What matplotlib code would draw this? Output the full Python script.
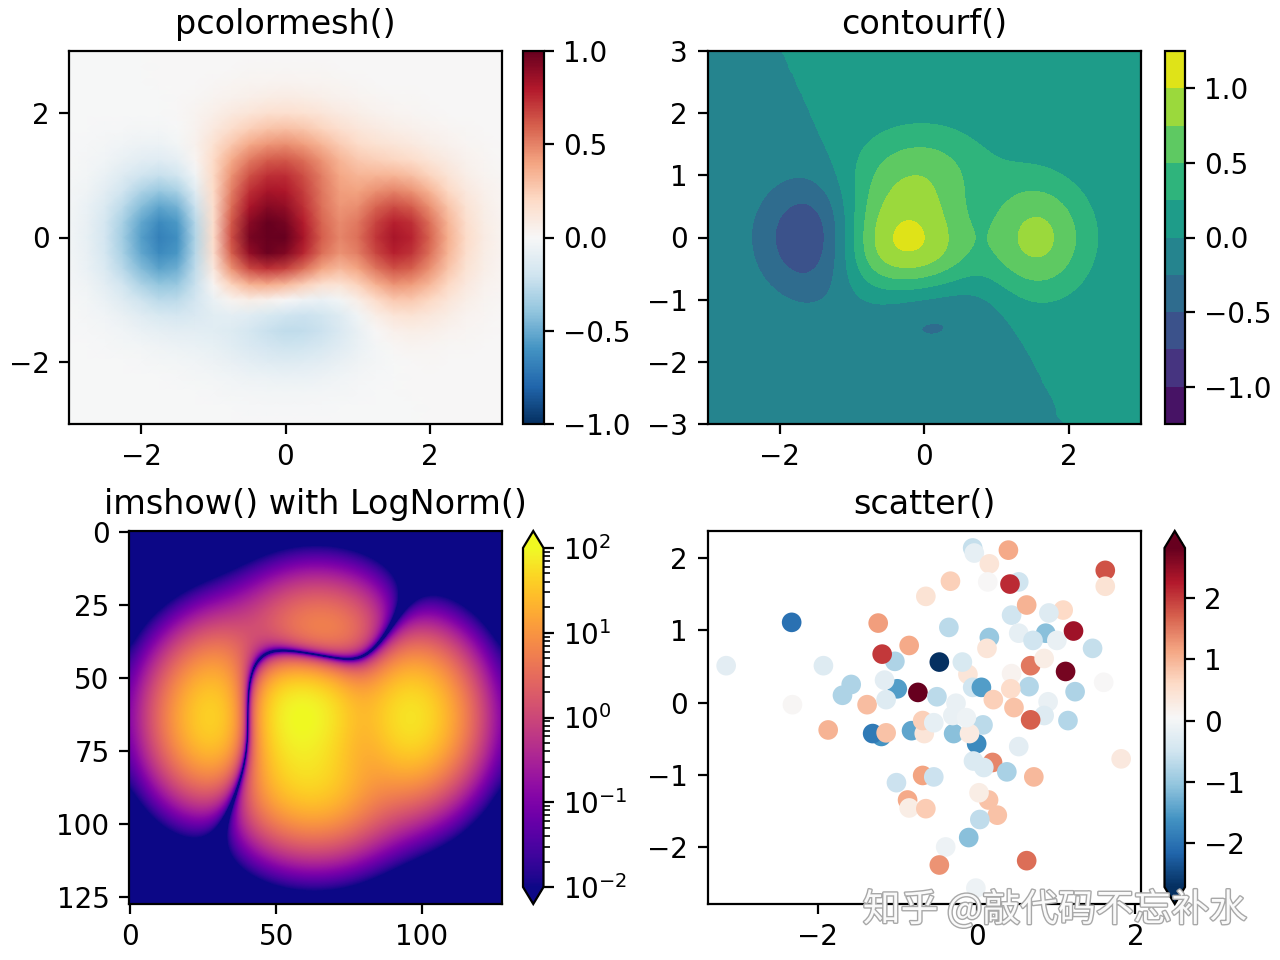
import numpy as np
import matplotlib
matplotlib.use("Agg")
import matplotlib.pyplot as plt
import matplotlib.cm as cm
import matplotlib.tri as mtri
import matplotlib.patheffects as pe
from matplotlib.colors import LogNorm, FuncNorm

# axis of the surface table, first row is y=-3
grid_axis = np.linspace(-3, 3, 25)

z_rows = [
    [-.000004, -.000012, -.000029, -.000065, -.000129, -.00024, -.000427, -.000735, -.001202, -.001817, -.002476, -.002998, -.003207, -.003026, -.002518, -.001836, -.001157, -.000609, -.000249, -.000061, .000011, .000024, .000017, .000008, .000004],
    [-.000017, -.000047, -.000117, -.000251, -.000483, -.000858, -.001458, -.002419, -.003877, -.005817, -.007918, -.009597, -.01028, -.009718, -.008095, -.005899, -.003686, -.001891, -.000708, -.000103, .000107, .00012, .000077, .000037, .000014],
    [-.000061, -.000171, -.000414, -.00087, -.001614, -.002723, -.004368, -.006898, -.010741, -.015934, -.021657, -.026294, -.02823, -.026744, -.022314, -.016237, -.010031, -.004935, -.001583, .000081, .000578, .000512, .000305, .000141, .000054],
    [-.000197, -.000547, -.001305, -.002682, -.004799, -.007676, -.011498, -.017005, -.025361, -.036981, -.050144, -.061047, -.06577, -.062521, -.052296, -.037975, -.023032, -.010567, -.002364, .001521, .002388, .001848, .001051, .000479, .00018],
    [-.000562, -.001551, -.003658, -.007368, -.012751, -.01931, -.026726, -.036184, -.050526, -.071605, -.096708, -.118276, -.12818, -.122545, -.102937, -.074481, -.043784, -.017552, -.00029, .007309, .008052, .005741, .003161, .001417, .00053],
    [-.001, -.004, -.009, -.018, -.030, -.044, -.055, -.067, -.084, -.113, -.151, -.186, -.204, -.197, -.167, -.120, -.066, -.019, .012, .025, .023, .015, .008, .004, .001],
    [-.003, -.009, -.020, -.039, -.064, -.088, -.102, -.106, -.112, -.134, -.177, -.223, -.252, -.250, -.213, -.151, -.073, .001, .050, .065, .055, .036, .019, .008, .003],
    [-.006, -.017, -.039, -.076, -.123, -.162, -.172, -.149, -.112, -.098, -.120, -.163, -.200, -.212, -.191, -.130, -.035, .065, .130, .143, .115, .074, .039, .017, .006],
    [-.011, -.030, -.068, -.132, -.209, -.267, -.265, -.187, -.068, .029, .063, .043, 0, -.043, -.063, -.029, .068, .187, .266, .267, .209, .132, .068, .030, .011],
    [-.017, -.046, -.105, -.202, -.317, -.398, -.376, -.220, .017, .232, .354, .376, .330, .243, .160, .143, .227, .359, .446, .429, .330, .206, .107, .046, .017],
    [-.023, -.063, -.144, -.274, -.430, -.535, -.490, -.253, .107, .450, .663, .730, .682, .550, .398, .326, .394, .539, .634, .597, .454, .282, .146, .063, .023],
    [-.028, -.076, -.173, -.330, -.516, -.640, -.580, -.284, .168, .601, .880, .978, .924, .759, .561, .453, .514, .671, .775, .725, .550, .342, .177, .077, .028],
    [-.030, -.081, -.184, -.352, -.550, -.680, -.616, -.299, .184, .648, .949, 1.056, 1.000, .823, .609, .491, .552, .718, .827, .773, .586, .364, .188, .082, .030],
    [-.028, -.076, -.173, -.330, -.516, -.638, -.577, -.278, .178, .617, .902, 1.006, .954, .787, .583, .469, .524, .677, .778, .727, .550, .342, .177, .077, .028],
    [-.023, -.063, -.143, -.273, -.426, -.525, -.470, -.213, .179, .561, .815, .914, .876, .733, .550, .438, .466, .579, .654, .607, .458, .284, .146, .064, .023],
    [-.017, -.046, -.105, -.199, -.309, -.376, -.326, -.120, .193, .506, .728, .828, .810, .695, .534, .417, .403, .459, .496, .451, .338, .209, .107, .047, .017],
    [-.011, -.029, -.067, -.127, -.196, -.233, -.188, -.033, .203, .448, .636, .734, .736, .648, .511, .390, .338, .341, .343, .302, .222, .136, .070, .030, .011],
    [-.006, -.017, -.038, -.071, -.108, -.123, -.086, .023, .189, .369, .518, .606, .619, .557, .446, .336, .266, .236, .217, .181, .130, .079, .040, .017, .006],
    [-.003, -.008, -.019, -.035, -.051, -.055, -.027, .043, .150, .271, .377, .445, .461, .421, .341, .254, .189, .150, .125, .098, .068, .041, .020, .009, .003],
    [-.001, -.004, -.008, -.015, -.021, -.020, -.002, .039, .101, .173, .240, .285, .298, .274, .224, .166, .118, .086, .065, .048, .032, .019, .009, .004, .001],
    [-.000526, -.001399, -.003092, -.005514, -.007383, -.005606, .004156, .025228, .057268, .095347, .13148, .156968, .16482, .152699, .125251, .092471, .06401, .04386, .030592, .021013, .01342, .007595, .003727, .001569, .000566],
    [-.000179, -.000473, -.001027, -.00177, -.002157, -.000932, .0037, .013219, .027691, .045185, .062158, .074415, .07843, .072941, .060006, .044191, .03002, .019657, .012834, .008265, .00503, .00276, .001329, .000553, .000198],
    [-.000054, -.00014, -.000297, -.000488, -.000508, .000099, .00199, .005744, .011451, .018436, .025321, .03037, .03209, .02992, .024664, .018133, .012161, .007707, .004775, .002903, .001684, .000894, .000421, .000173, .000062],
    [-.000014, -.000036, -.000075, -.000114, -.000088, .000152, .000818, .002108, .004069, .006491, .008904, .010695, .01132, .010574, .008728, .006409, .00426, .002637, .001568, .000907, .000502, .000258, .000119, .000048, .000017],
    [-.000003, -.000008, -.000016, -.000022, -.000007, .000072, .000275, .000661, .001248, .001977, .00271, .003258, .003453, .00323, .002668, .001958, .001293, .000787, .000453, .000251, .000133, .000066, .000029, .000012, .000004],
]

scatter_x = [-3.155, -2.33, -1.93, -2.32, -1.24, -.85, -1.03, -1.19, -1.58, -1.69, -1.38, -1.0, -1.16, -1.14, -.74, -.64,
             -.05, -.03, .40, .16, -.33, .14, .53, .42, .44, .63, 1.09, .91, -.35, .16, .13, .53, .87, .71, 1.01, 1.22,
             1.46, -.47, -.11, -.18, .68, .85, .44, 1.12, 1.60, 1.24, .66, .43, -.05, .06, -.5, .21, -.26, .90, .47, .85,
             .68, 1.15, -1.87, -1.2, -1.31, -1.14, -.82, -.66, -.68, -.54, -.29, 0, .08, -.09, -.30, -.13, .53, .2, -.04,
             .09, .38, .72, 1.82, -.68, -.54, -1.01, .15, .03, .26, -.87, -.85, -.64, .04, -.10, -.39, -.47, .63, -.01,
             1.62, 1.62]
scatter_y = [.51, 1.11, .51, -.03, 1.10, .79, .57, .67, .25, .10, -.03, .19, .31, .04, .14, 1.47,
             2.14, 2.07, 2.11, 1.92, 1.68, 1.67, 1.67, 1.64, 1.21, 1.35, 1.28, 1.24, 1.04, .90, .75, .96, .96, .86, .86, .99,
             .75, .56, .39, .56, .51, .61, .40, .43, .28, .15, .22, .19, .21, .21, .08, .04, -.01, .01, -.07, -.18,
             -.24, -.25, -.38, -.47, -.43, -.42, -.39, -.43, -.25, -.28, -.43, -.57, -.31, -.43, -.18, -.21, -.61, -.83, -.81,
             -.90, -.96, -1.03, -.78, -1.01, -1.03, -1.11, -1.35, -1.25, -1.56, -1.35, -1.46, -1.47, -1.62, -1.87, -2.0, -2.25, -2.19, -2.57,
             1.83, 1.61]
scatter_c = [-.25, -2.0, -.3, .08, 1.2, 1.1, -.8, 2.0, -.8, -.8, .9, -1.5, -.25, -.3, 2.8, .45,
             -.6, -.2, 1.1, .4, .7, .05, -.5, 2.1, -.5, 1.0, .6, -.3, -.7, -1.0, .4, -.2, -1.1, -.5, -.15, 2.4,
             -.6, -2.7, .4, -.4, 1.5, .25, .15, 2.7, .05, -.8, -.75, .55, -.5, -1.5, -.7, .7, -.15, -.15, .85, -.3,
             1.7, -.75, 1.0, -1.6, -1.9, .85, -1.4, .4, .7, -.2, -1.1, -1.7, -.7, .3, -.15, -.1, -.25, 1.4, -.35,
             -.35, -.85, .95, .35, 1.15, -.55, -.55, .85, .25, .85, 1.1, .25, .75, -.65, -1.1, -.1, 1.3, 1.6, -.1,
             1.8, .45]

Z = np.array(z_rows)
X, Y = np.meshgrid(grid_axis, grid_axis)


# colour of the log panel follows Z**2*100, the sign is kept so the zero line survives resampling
def z_forward(z):
    return np.log10(z * z * 100 + 1e-12)


def z_inverse(v):
    return np.sqrt(10.0 ** v / 100)


fig = plt.figure(figsize=(6.4, 4.8), dpi=200)


# axes box given in pixels of the 1280x960 picture
def px_axes(left, right, top, bottom):
    return fig.add_axes([left / 1280, 1 - bottom / 960, (right - left) / 1280, (bottom - top) / 960])


ax_mesh = px_axes(69, 502, 51, 424)
cax_mesh = px_axes(523, 543.5, 51, 424)
ax_cont = px_axes(707.5, 1141, 51, 424)
cax_cont = px_axes(1164.5, 1185, 51, 424)
ax_im = px_axes(129, 502, 531, 904)
cax_im = px_axes(523, 543.5, 531, 904)
ax_sc = px_axes(707.5, 1141, 531, 904)
cax_sc = px_axes(1164.5, 1185, 531, 904)

pc = ax_mesh.pcolormesh(X, Y, Z, vmin=-1, vmax=1, cmap='RdBu_r', shading='gouraud')
ax_mesh.set_yticks([-2, 0, 2])
fig.colorbar(pc, cax=cax_mesh)
ax_mesh.set_title('pcolormesh()')

# smooth the table with matplotlib's own refiner so the filled contours are not polygonal
triang = mtri.Triangulation(X.ravel(), Y.ravel())
refiner = mtri.UniformTriRefiner(triang)
tri_fine, z_fine = refiner.refine_field(Z.ravel(), subdiv=3)
co = ax_cont.tricontourf(tri_fine, z_fine, levels=np.linspace(-1.25, 1.25, 11))
ax_cont.set_xlim(-3, 3)
ax_cont.set_ylim(-3, 3)
fig.colorbar(co, cax=cax_cont)
ax_cont.set_title('contourf()')

half = 127 / 24 / 2
im = ax_im.imshow(Z, cmap='plasma', norm=FuncNorm((z_forward, z_inverse), vmin=0.01, vmax=1),
                  interpolation='bicubic', interpolation_stage='data', origin='upper',
                  extent=(-half, 127 + half, 127 + half, -half))
ax_im.set_xlim(-0.5, 127.5)
ax_im.set_ylim(127.5, -0.5)
log_map = cm.ScalarMappable(norm=LogNorm(vmin=0.01, vmax=100), cmap='plasma')
fig.colorbar(log_map, cax=cax_im, extend='both')
ax_im.set_title('imshow() with LogNorm()')

sc = ax_sc.scatter(scatter_x, scatter_y, c=scatter_c, s=50, linewidths=0, cmap='RdBu_r', vmin=-2.71, vmax=2.81)
ax_sc.set_xlim(-3.39, 2.07)
ax_sc.set_ylim(-2.79, 2.375)
fig.colorbar(sc, cax=cax_sc, extend='both')
ax_sc.set_title('scatter()')

# watermark
fig.text(0.824, 0.0515, '知乎 @敲代码不忘补水', family=['Noto Sans CJK SC', 'DejaVu Sans'], fontsize=13.6,
         color='#fafafa', ha='center', va='center', zorder=10,
         path_effects=[pe.withStroke(linewidth=1.0, foreground='#a8a8a8')])

fig.savefig('out.png')
